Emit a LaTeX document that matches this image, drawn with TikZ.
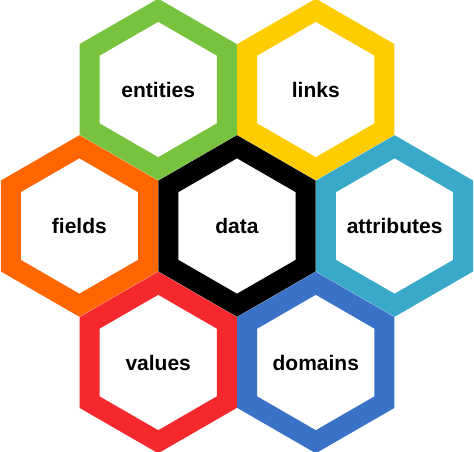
\documentclass[tikz,border=0pt]{standalone}
\usepackage{fontspec}
\setmainfont{Liberation Sans}
\usetikzlibrary{positioning, shapes.geometric, calc}

\definecolor{entgreen}{RGB}{119,195,62}
\definecolor{linkyellow}{RGB}{255,204,0}
\definecolor{fieldorange}{RGB}{255,102,0}
\definecolor{attrteal}{RGB}{56,169,201}
\definecolor{valred}{RGB}{245,40,46}
\definecolor{domblue}{RGB}{58,114,200}

\begin{document}
\begin{tikzpicture}[x=1pt, y=1pt, node distance=157.6pt,
		hexa/.style={regular polygon, regular polygon sides=6, shape border rotate=30,
			draw=#1, line width=20pt, line join=miter, minimum size=158.5pt,
			inner sep=0pt, outer sep=0pt, fill=white,
			font=\fontsize{21}{25}\selectfont\bfseries}]

	\useasboundingbox (0,0) rectangle (474,451);

	\coordinate (mid) at (237,225);

	\node[hexa=entgreen]    (entities)   at ($(mid)+(-78.8,136.5)$) {entities};
	\node[hexa=linkyellow]  (links)      at ($(mid)+(78.8,136.5)$)  {links};
	\node[hexa=fieldorange] (fields)     [left of=mid]              {fields};
	\node[hexa=attrteal]    (attributes) [right of=mid]             {attributes};
	\node[hexa=valred]      (values)     at ($(mid)+(-78.8,-136.5)$) {values};
	\node[hexa=domblue]     (domains)    at ($(mid)+(78.8,-136.5)$)  {domains};
	\node[hexa=black]       (data)       at (mid)                    {data};

\end{tikzpicture}
\end{document}
